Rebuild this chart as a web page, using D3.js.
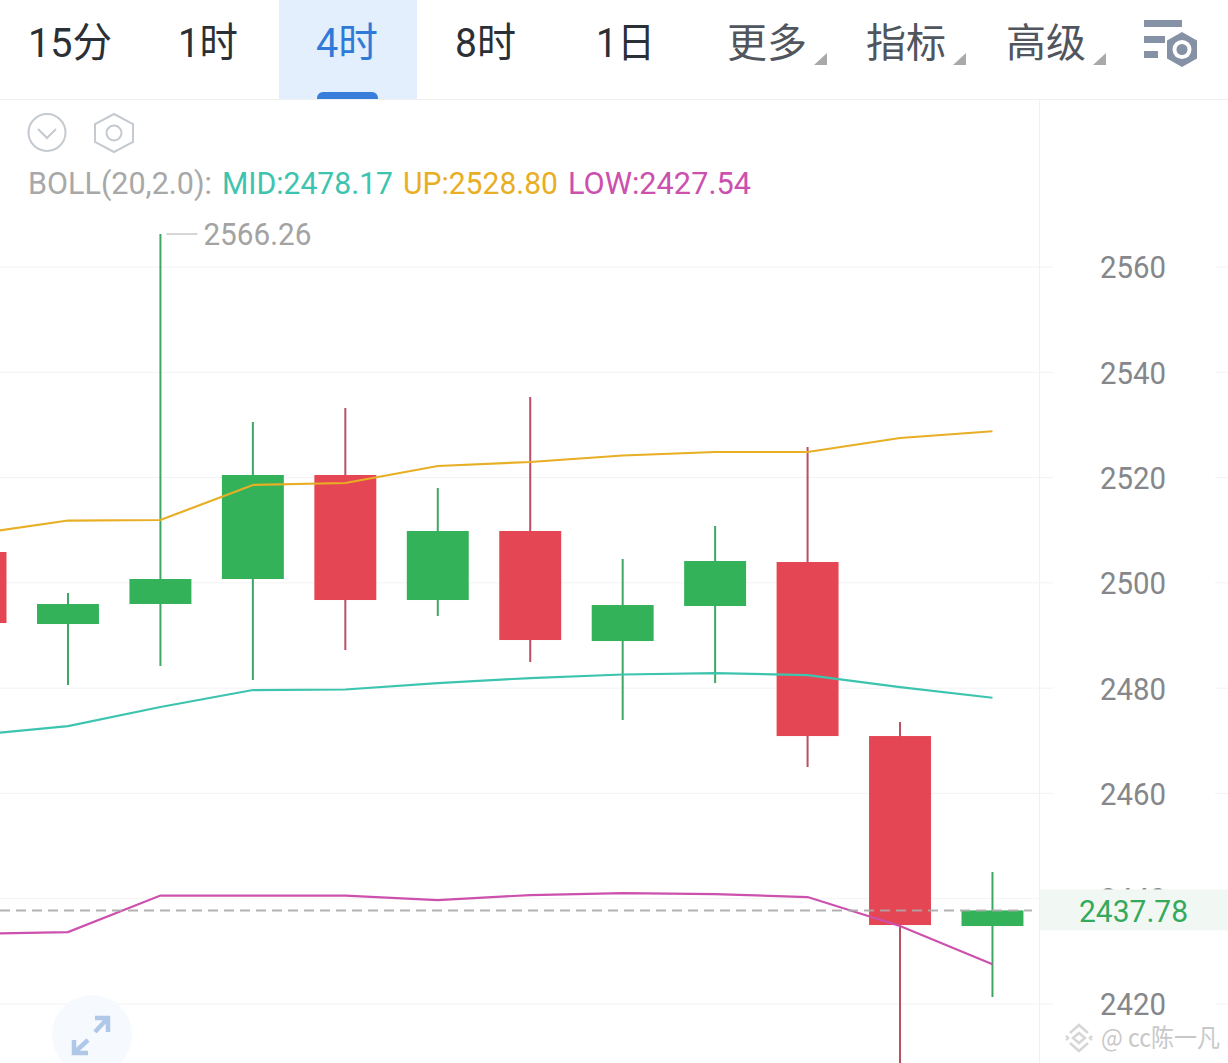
<!DOCTYPE html>
<html>
<head>
<meta charset="utf-8">
<script src="https://cdn.jsdelivr.net/npm/d3@7"></script>
<style>
html,body{margin:0;padding:0;background:#fff;overflow:hidden}
svg{display:block}
text{font-family:Roboto,"Noto Sans CJK SC",sans-serif}
.cjk{font-family:"Noto Sans CJK SC",sans-serif}
</style>
</head>
<body>
<div id="chart"></div>
<script>
const candleIds = ['k0','k1','k2','k3','k4','k5','k6','k7','k8','k9','k10','k11'];
const open  = [2505.86,2492.18,2495.98,2500.73,2520.49,2496.74,2509.85,2488.95,2495.60,2503.96,2470.90,2434.81];
const close = [2492.37,2495.98,2500.73,2520.49,2496.74,2509.85,2489.14,2495.79,2504.15,2470.90,2435.00,2437.78];
const high  = [2508.00,2498.07,2566.26,2530.55,2533.21,2518.02,2535.30,2504.53,2510.80,2525.81,2473.56,2445.07];
const low   = [2490.00,2480.59,2484.20,2481.54,2487.24,2493.70,2484.96,2473.94,2480.97,2465.02,2405.00,2421.32];
const upper = [2509.28,2511.84,2511.94,2518.59,2518.97,2522.20,2522.96,2524.19,2524.86,2524.86,2527.52,2528.80];
const mid   = [2471.10,2472.80,2476.41,2479.64,2479.74,2480.97,2481.92,2482.59,2482.87,2482.49,2480.21,2478.17];
const lower = [2433.30,2433.67,2440.60,2440.60,2440.60,2439.75,2440.70,2441.08,2440.89,2440.32,2434.81,2427.54];
const yTicks = [2560,2540,2520,2500,2480,2460,2440,2420];
const lastPrice = 2437.78;
const tabs = ['15分','1时','4时','8时','1日'];
const menus = ['更多','指标','高级'];

const W = 1228, H = 1063;
const up = '#34b25a', down = '#e54654';
const upWick = '#3fa763', downWick = '#b94f63';

const x = d3.scaleBand().domain(candleIds).range([-70.7,1038.7]).paddingInner(0.33).paddingOuter(0.165);
const cx = id => x(id) + x.bandwidth()/2;
const y = d3.scaleLinear().domain([2420,2560]).range([1004,267]);

const svg = d3.select('#chart').append('svg').attr('width',W).attr('height',H);
svg.append('rect').attr('width',W).attr('height',H).attr('fill','#fff');

// header
svg.append('rect').attr('x',279).attr('y',0).attr('width',138).attr('height',99).attr('fill','#e3effc');
svg.append('path').attr('d','M317,99V98a6,6 0 0 1 6,-6H372a6,6 0 0 1 6,6V99Z').attr('fill','#3a7edc');
svg.append('line').attr('x1',0).attr('x2',W).attr('y1',99.5).attr('y2',99.5).attr('stroke','#f0f0f0');

const tabX = [28,178,316,455,596];
const tabW = [84,60,62,61,59];
svg.selectAll('.tab').data(tabs).enter().append('text')
  .attr('class','tab')
  .attr('x',(d,i)=>tabX[i]).attr('y',57)
  .attr('textLength',(d,i)=>tabW[i]).attr('lengthAdjust','spacingAndGlyphs')
  .style('font-size','41px')
  .attr('fill',(d,i)=>i==2 ? '#2f7ad8' : '#2b2f36')
  .text(d=>d);

const menuX = [727,866,1006];
svg.selectAll('.menu').data(menus).enter().append('text')
  .attr('class','menu cjk')
  .attr('x',(d,i)=>menuX[i]).attr('y',57)
  .style('font-size','40px')
  .attr('fill','#50555e')
  .text(d=>d);
svg.selectAll('.tri').data(menuX).enter().append('path')
  .attr('class','tri')
  .attr('d',d=>`M${d+100},53V65H${d+87}Z`)
  .attr('fill','#a9a9a9');

// settings icon top right
const icon = svg.append('g').attr('fill','#8592a6');
icon.append('rect').attr('x',1144).attr('y',20).attr('width',38).attr('height',7);
icon.append('rect').attr('x',1144).attr('y',36).attr('width',21).attr('height',7);
icon.append('rect').attr('x',1144).attr('y',51).attr('width',14).attr('height',7);
icon.append('path').attr('d','M1182,32L1197,40.500V58.500L1182,67L1167,58.500V40.500Z');
icon.append('circle').attr('cx',1182).attr('cy',49.500).attr('r',9.500).attr('fill','#fff');
icon.append('circle').attr('cx',1182).attr('cy',49.500).attr('r',5.500);

// grid and axis
svg.append('line').attr('x1',1039.5).attr('x2',1039.5).attr('y1',100).attr('y2',H).attr('stroke','#f0f0f0');
svg.selectAll('.grid').data(yTicks).enter().append('path')
  .attr('class','grid')
  .attr('d',d=>`M0,${y(d)}H1053M1215,${y(d)}H${W}`)
  .attr('fill','none').attr('stroke','#f3f3f3');

const yAxis = d3.axisRight(y).tickValues(yTicks).tickSize(0).tickPadding(0).tickFormat(d3.format('d'));
const gy = svg.append('g').attr('transform','translate(1100,0)').call(yAxis);
gy.select('.domain').remove();
gy.selectAll('text').attr('x',0).attr('dy','0.35em').attr('fill','#85878b')
  .attr('textLength',66).attr('lengthAdjust','spacingAndGlyphs')
  .style('font-size','31px');

// last price band on top of axis
svg.append('rect').attr('x',1040).attr('y',y(lastPrice)-21).attr('width',188).attr('height',41).attr('fill','#f1f8f4');
svg.append('text').attr('x',1079).attr('y',y(lastPrice)).attr('dy','0.36em')
  .attr('textLength',109).attr('lengthAdjust','spacingAndGlyphs')
  .attr('fill','#35a95c').style('font-size','32px').text(d3.format('.2f')(lastPrice));

// candles
svg.append('clipPath').attr('id','plot').append('rect').attr('x',0).attr('y',100).attr('width',1039).attr('height',H-100);
const plot = svg.append('g').attr('clip-path','url(#plot)');

const bars = candleIds.map((id,i)=>({id,o:open[i],c:close[i],h:high[i],l:low[i]}));
plot.selectAll('.wick').data(bars.slice(1)).enter().append('line')
  .attr('class','wick')
  .attr('x1',d=>cx(d.id)).attr('x2',d=>cx(d.id))
  .attr('y1',d=>y(d.h)).attr('y2',d=>y(d.l))
  .attr('stroke',d=>d.c>=d.o ? upWick : downWick)
  .attr('stroke-width',2);
plot.selectAll('.body').data(bars).enter().append('rect')
  .attr('class','body')
  .attr('x',d=>x(d.id)).attr('width',x.bandwidth())
  .attr('y',d=>y(Math.max(d.o,d.c)))
  .attr('height',d=>Math.abs(y(d.o)-y(d.c)))
  .attr('fill',d=>d.c>=d.o ? up : down);

// boll lines
const bollLine = vals => d3.line().x((d,i)=>cx(candleIds[i])).y(d=>y(d))(vals);
[[upper,'#e8ae24'],[mid,'#3cc4ae'],[lower,'#cc50ad']].forEach(s=>{
  plot.append('path').attr('d',bollLine(s[0])).attr('fill','none').attr('stroke',s[1]).attr('stroke-width',2.2);
});

// last price line
svg.append('line').attr('x1',0).attr('x2',1032).attr('y1',y(lastPrice)).attr('y2',y(lastPrice))
  .attr('stroke','#a9a9a9').attr('stroke-opacity',0.9).attr('stroke-width',2).attr('stroke-dasharray','10 6');

// highest price marker
const hx = cx('k2');
svg.append('line').attr('x1',hx+6).attr('x2',hx+37).attr('y1',y(2566.26)).attr('y2',y(2566.26)).attr('stroke','#c9c9c9').attr('stroke-width',1.5);
svg.append('text').attr('x',hx+43).attr('y',y(2566.26)).attr('dy','0.36em')
  .attr('textLength',108).attr('lengthAdjust','spacingAndGlyphs')
  .attr('fill','#a3a3a3').style('font-size','31px').text(d3.format('.2f')(2566.26));

// legend
const legend = [
  ['BOLL(20,2.0):',28,184,'#a8a8a8'],
  ['MID:'+d3.format('.2f')(mid[11]),222,171,'#3cc4ae'],
  ['UP:'+d3.format('.2f')(upper[11]),403,155,'#e8ae24'],
  ['LOW:'+d3.format('.2f')(lower[11]),568,183,'#cc50ad']
];
svg.selectAll('.legend').data(legend).enter().append('text')
  .attr('class','legend')
  .attr('x',d=>d[1]).attr('y',194)
  .attr('textLength',d=>d[2]).attr('lengthAdjust','spacingAndGlyphs')
  .attr('fill',d=>d[3])
  .style('font-size','31px')
  .text(d=>d[0]);

// small icons above legend
const grayIcon = svg.append('g').attr('fill','none').attr('stroke','#c5cad0').attr('stroke-width',2);
grayIcon.append('circle').attr('cx',47).attr('cy',132.500).attr('r',18.500);
grayIcon.append('path').attr('d','M38,129L47,138L56,129');
grayIcon.append('path').attr('d','M114,114L133,124V142L114,152L95,142V124Z');
grayIcon.append('circle').attr('cx',114).attr('cy',133).attr('r',7.500);

// expand button
svg.append('circle').attr('cx',92).attr('cy',1035).attr('r',40).attr('fill','#f6f9fe');
svg.append('path')
  .attr('d','M95,1032L107,1019M95,1018H108V1032M88,1040L75,1052M74,1040V1053H88')
  .attr('fill','none').attr('stroke','#b0c8e8').attr('stroke-width',4.5);

// watermark
const wm = svg.append('g').attr('fill','none').attr('stroke','#d6d6d6').attr('stroke-width',2.5);
wm.append('path').attr('d','M1070,1033L1079,1025L1088,1033');
wm.append('path').attr('d','M1073,1038L1079,1033L1085,1038L1079,1043Z');
wm.append('path').attr('d','M1066,1036L1068,1038L1066,1040M1092,1036L1090,1038L1092,1040');
wm.append('path').attr('d','M1070,1043L1079,1051L1088,1043');
svg.append('text').attr('class','cjk').attr('x',1101).attr('y',1047)
  .attr('textLength',119).attr('lengthAdjust','spacingAndGlyphs')
  .attr('fill','#c8c8c8').style('font-size','25px').text('@ cc陈一凡');
</script>
</body>
</html>
